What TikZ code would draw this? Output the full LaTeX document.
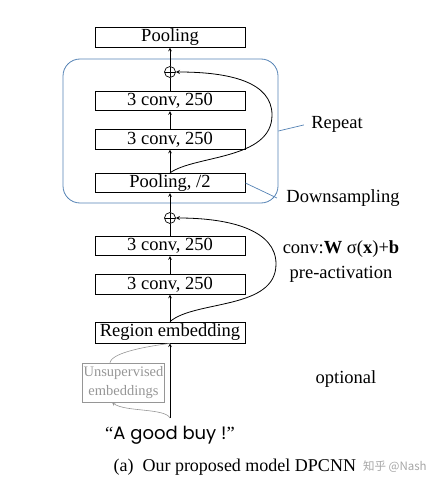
\documentclass[tikz,border=0pt]{standalone}
\usepackage{fontspec}
\setmainfont{Liberation Serif}
\newfontfamily\quotefont{Poppins}
\newfontfamily\cjkfont{Noto Sans CJK SC}
\usetikzlibrary{arrows, positioning}
\definecolor{repeatblue}{RGB}{84,130,180}
\definecolor{optgray}{RGB}{150,150,150}

\begin{document}
\begin{tikzpicture}[
    x=1pt, y=-1pt,
    every node/.style={font=\fontsize{18.5}{21}\selectfont},
    layer/.style={rectangle, minimum width=150pt, minimum height=19.5pt,
                  inner sep=0pt, draw=black, line width=0.8pt},
    sumnode/.style={circle, draw=black, minimum size=11pt, inner sep=0pt, line width=0.7pt,
                    path picture={\draw (path picture bounding box.north) -- (path picture bounding box.south)
                                        (path picture bounding box.west) -- (path picture bounding box.east);}},
    arrow/.style={->, >=stealth, line width=0.6pt},
    skip/.style={->, >=stealth, line width=0.8pt},
    note/.style={draw=repeatblue, line width=0.7pt}
]
\useasboundingbox (0,0) rectangle (426,489);

% Repeat block
\node (repeatbox) [draw=repeatblue, line width=0.8pt, rounded corners=17pt,
    minimum width=215pt, minimum height=144pt] at (170.5,131) {};

% Layers
\node (pool) [layer] at (170,37.5) {Pooling};
\node (sum1) [sumnode] at (170,72) {};
\node (conva) [layer] at (170,101) {3 conv, 250};
\node (convb) [layer] at (170,139.5) {3 conv, 250};
\node (down) [layer] at (170,183) {Pooling, /2};
\node (sum2) [sumnode] at (170,218) {};
\node (convc) [layer] at (170,246) {3 conv, 250};
\node (convd) [layer] at (170,284.5) {3 conv, 250};
\node (region) [layer, minimum height=21pt] at (170,332.5) {Region embedding};

% Optional input
\node (unsup) [draw=optgray, text=optgray, align=center, line width=0.7pt,
    minimum width=81pt, minimum height=39pt, inner sep=1pt,
    font=\fontsize{14.5}{19}\selectfont] at (123.5,382.5) {Unsupervised\\embeddings};
\coordinate (input) at (170,418);
\node (sentence) at (170,435) {“{\quotefont\fontsize{18}{20}\selectfont A good buy !}”};

% Labels
\node (repeat) at (337,124) {Repeat};
\node (downlabel) at (343,198) {Downsampling};
\node (convlabel) [align=center, font=\fontsize{18.5}{25}\selectfont] at (341,262)
    {conv:\textbf{W} σ(\textbf{x})+\textbf{b}\\pre-activation};
\node (optional) at (346,379) {optional};
\node (caption) [anchor=west, font=\fontsize{18}{20}\selectfont] at (110,467)
    {(a)\enspace Our proposed model DPCNN};
\node (mark) [anchor=west, text=black!35, font=\cjkfont\fontsize{11.5}{12}\selectfont]
    at (caption.east) {知乎 @Nash};

% Arrows
\draw [arrow] (sum1) -- (pool);
\draw [line width=0.6pt] (conva) -- (sum1);
\draw [arrow] (convb) -- (conva);
\draw [arrow] (down) -- (convb);
\draw [arrow] (sum2) -- (down);
\draw [line width=0.6pt] (convc) -- (sum2);
\draw [arrow] (convd) -- (convc);
\draw [arrow] (region) -- (convd);
\draw [arrow] (input) -- (region);

% Shortcuts
\draw [skip] (down.north) .. controls (195,155) and (272,160) .. (272,115)
    .. controls (272,82) and (230,72) .. (sum1.east);
\draw [skip] (region.north) .. controls (195,300) and (276,310) .. (276,264)
    .. controls (276,230) and (230,218) .. (sum2.east);

% Optional embeddings
\coordinate (unsupin) at ([xshift=-11.5pt]unsup.south);
\coordinate (unsupout) at ([xshift=-13.5pt]unsup.north);
\draw [optgray, line width=0.6pt] (unsupout) .. controls (112,352) and (150,346) .. (region.south);
\draw [optgray, arrow] (input) .. controls (165,408) and (125,412) .. (unsupin);

% Callouts
\draw [note, shorten >=4pt] (repeatbox.east) -- (repeat.west);
\draw [note] (down.east) -- ([xshift=-6pt]downlabel.west);

\end{tikzpicture}
\end{document}
